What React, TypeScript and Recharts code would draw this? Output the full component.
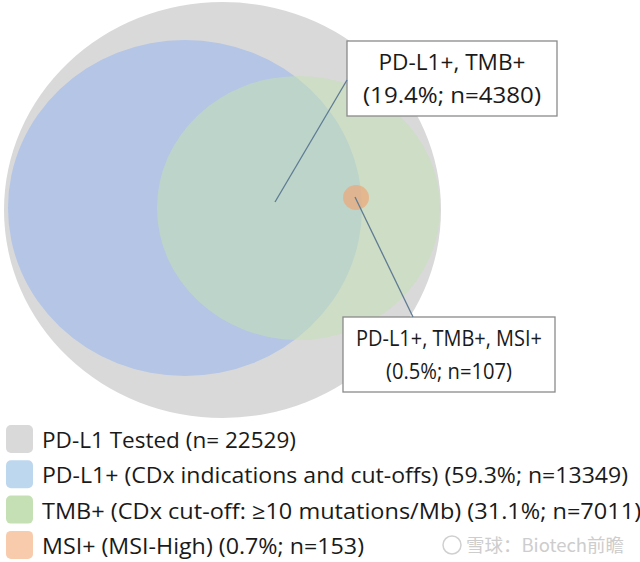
import React from "react";
import {
  ScatterChart,
  Scatter,
  XAxis,
  YAxis,
  ReferenceArea,
  ReferenceLine,
  Legend,
} from "recharts";

// sets of the Venn diagram
const setLabels = [
  "PD-L1 Tested (n= 22529)",
  "PD-L1+ (CDx indications and cut-offs) (59.3%; n=13349)",
  "TMB+ (CDx cut-off: ≥10 mutations/Mb) (31.1%; n=7011)(",
  "MSI+ (MSI-High) (0.7%; n=153)",
];
const setCounts = [22529, 13349, 7011, 153];
// ellipse extents, in chart units
const setLeft = [4, 8, 157, 343];
const setRight = [441, 362, 440, 369];
const setTop = [2, 40, 76, 185];
const setBottom = [418, 376, 340, 210];

// callouts
const calloutLine1 = ["PD-L1+, TMB+", "PD-L1+, TMB+, MSI+"];
const calloutLine2 = ["(19.4%; n=4380)", "(0.5%; n=107)"];
const calloutLeft = [347, 343];
const calloutRight = [557, 555];
const calloutTop = [41, 317];
const calloutBottom = [116, 392];
const pointerFrom = [
  { x: 275, y: 202 },
  { x: 355, y: 197 },
];
const pointerTo = [
  { x: 347, y: 80 },
  { x: 413, y: 317 },
];

const W = 640;
const H = 562;
const FONT = "'Open Sans', 'Noto Sans', sans-serif";

const areaFill = ["#d9d9d9", "#b4c5e6", "#c5e0b4", "#eba97c"];
const areaOpacity = [1, 1, 0.55, 0.75];
const swatchFill = ["#d9d9d9", "#bdd7ee", "#c5e0b4", "#f8cbad"];
const legendWidth = [254, 586, 606, 322];
const calloutWidth1 = [147, 186];
const calloutWidth2 = [178, 126];

const ellipseShape = (i: number) => (props: any) => {
  const { x, y, width, height } = props;
  return (
    <ellipse
      cx={x + width / 2}
      cy={y + height / 2}
      rx={Math.abs(width) / 2}
      ry={Math.abs(height) / 2}
      fill={areaFill[i]}
      fillOpacity={areaOpacity[i]}
    />
  );
};

const calloutShape = (i: number) => (props: any) => {
  const { x, y, width, height } = props;
  const mid = x + width / 2;
  return (
    <g>
      <rect
        x={x}
        y={y}
        width={width}
        height={height}
        fill="#ffffff"
        stroke="#8a8a8a"
        strokeWidth={1.3}
      />
      <text
        x={mid}
        y={y + 29}
        textAnchor="middle"
        fontFamily={FONT}
        fontSize={21}
        fill="#1a1a1a"
        textLength={calloutWidth1[i]}
        lengthAdjust="spacingAndGlyphs"
      >
        {calloutLine1[i]}
      </text>
      <text
        x={mid}
        y={y + 62}
        textAnchor="middle"
        fontFamily={FONT}
        fontSize={21}
        fill="#1a1a1a"
        textLength={calloutWidth2[i]}
        lengthAdjust="spacingAndGlyphs"
      >
        {calloutLine2[i]}
      </text>
    </g>
  );
};

const VennLegend = () => (
  <svg width={W} height={142} style={{ display: "block" }}>
    {setLabels.map((label, i) => {
      const cy = 19 + i * 35.3;
      return (
        <g key={label}>
          <rect
            x={6}
            y={cy - 14}
            width={27}
            height={28}
            rx={5}
            fill={swatchFill[i]}
          />
          <text
            x={42}
            y={cy + 9}
            fontFamily={FONT}
            fontSize={22}
            fill="#1a1a1a"
            textLength={legendWidth[i]}
            lengthAdjust="spacingAndGlyphs"
          >
            {label}
          </text>
        </g>
      );
    })}
    <circle cx={452} cy={125} r={9} fill="none" stroke="#d0d0d0" strokeWidth={1.5} />
    <text
      x={466}
      y={132}
      fontFamily="'Noto Sans CJK SC', sans-serif"
      fontSize={18}
      fill="#cdcdcd"
      textLength={158}
      lengthAdjust="spacingAndGlyphs"
    >
      雪球：Biotech前瞻
    </text>
  </svg>
);

const App = () => {
  const centers = setCounts.map((n, i) => ({
    n,
    x: (setLeft[i] + setRight[i]) / 2,
    y: (setTop[i] + setBottom[i]) / 2,
  }));
  return (
    <div style={{ position: "absolute", left: 0, top: 0, width: W, height: H, background: "#fff" }}>
      <ScatterChart width={W} height={H} margin={{ top: 0, right: 0, bottom: 0, left: 0 }}>
        <XAxis type="number" dataKey="x" domain={[0, W]} hide allowDataOverflow />
        <YAxis type="number" dataKey="y" domain={[0, H]} reversed hide allowDataOverflow />
        {setCounts.map((_, i) => (
          <ReferenceArea
            key={`set-${i}`}
            x1={setLeft[i]}
            x2={setRight[i]}
            y1={setTop[i]}
            y2={setBottom[i]}
            shape={ellipseShape(i)}
            ifOverflow="visible"
          />
        ))}
        {pointerFrom.map((p, i) => (
          <ReferenceLine
            key={`ptr-${i}`}
            segment={[p, pointerTo[i]]}
            stroke="#5f7b93"
            strokeWidth={1.3}
            ifOverflow="visible"
          />
        ))}
        {calloutLine1.map((_, i) => (
          <ReferenceArea
            key={`box-${i}`}
            x1={calloutLeft[i]}
            x2={calloutRight[i]}
            y1={calloutTop[i]}
            y2={calloutBottom[i]}
            shape={calloutShape(i)}
            ifOverflow="visible"
          />
        ))}
        <Scatter data={centers} isAnimationActive={false} shape={() => <g />} />
        <Legend
          layout="horizontal"
          verticalAlign="middle"
          wrapperStyle={{ left: 0, top: 420, width: W, height: 142 }}
          content={() => <VennLegend />}
        />
      </ScatterChart>
    </div>
  );
};

export default App;
